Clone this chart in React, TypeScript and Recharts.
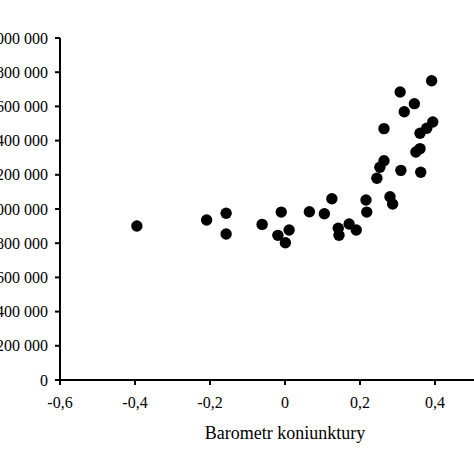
import { ScatterChart, Scatter, XAxis, YAxis } from 'recharts'

// Barometr koniunktury (x) vs. value (y)
const barometer = [
  0.391, 0.307, 0.345, 0.318, 0.394, 0.378, 0.36, 0.264, 0.36, 0.349,
  0.264, 0.253, 0.309, 0.362, 0.245, 0.125, 0.216, 0.28, 0.287, 0.218,
  0.065, 0.105, -0.01, -0.061, 0.011, -0.019, 0.001, 0.142, 0.144, 0.171,
  0.19, -0.395, -0.209, -0.157, -0.157,
]
const values = [
  1750000, 1684000, 1616000, 1569000, 1509000, 1472000, 1443000, 1470000, 1353000, 1333000,
  1282000, 1244000, 1226000, 1215000, 1180000, 1060000, 1053000, 1072000, 1029000, 982000,
  984000, 972000, 982000, 910000, 877000, 846000, 803000, 887000, 846000, 912000,
  877000, 901000, 936000, 975000, 854000,
]
const xTicks = [-0.6, -0.4, -0.2, 0, 0.2, 0.4, 0.6]
const yTicks = [0, 200000, 400000, 600000, 800000, 1000000, 1200000, 1400000, 1600000, 1800000, 2000000]

const points = barometer.map((x, i) => ({ x, y: values[i] }))

const fmtX = (v: number) => (v === 0 ? '0' : v.toFixed(1).replace('.', ','))
const fmtY = (v: number) => v.toLocaleString('en-US').replace(/,/g, ' ')

const font = '"Liberation Serif", "Times New Roman", serif'

const Dot = (props: any) => <circle cx={props.cx} cy={props.cy} r={5.7} fill="#000" />

export default function App() {
  return (
    <div
      style={{
        position: 'fixed',
        left: 0,
        top: 0,
        width: 474,
        height: 474,
        overflow: 'hidden',
        background: '#fff',
      }}
    >
      <div style={{ position: 'absolute', left: -30, top: 0 }}>
        <ScatterChart width={540} height={474} margin={{ top: 38, right: 0, bottom: 0, left: 0 }}>
          <XAxis
            type="number"
            dataKey="x"
            domain={[-0.6, 0.6]}
            ticks={xTicks}
            interval={0}
            tickFormatter={fmtX}
            height={94}
            tickSize={5}
            tickMargin={12}
            axisLine={{ stroke: '#000', strokeWidth: 2 }}
            tickLine={{ stroke: '#000', strokeWidth: 2 }}
            tick={{ fill: '#000', fontSize: 16, fontFamily: font }}
            label={{
              value: 'Barometr koniunktury',
              position: 'insideBottom',
              offset: 35,
              fill: '#000',
              fontSize: 18,
              fontFamily: font,
            }}
          />
          <YAxis
            type="number"
            dataKey="y"
            domain={[0, 2000000]}
            ticks={yTicks}
            interval={0}
            tickFormatter={fmtY}
            width={90}
            tickSize={5}
            tickMargin={7}
            axisLine={{ stroke: '#000', strokeWidth: 2 }}
            tickLine={{ stroke: '#000', strokeWidth: 2 }}
            tick={{ fill: '#000', fontSize: 16, fontFamily: font }}
          />
          <Scatter data={points} fill="#000" shape={Dot} isAnimationActive={false} />
        </ScatterChart>
      </div>
    </div>
  )
}
